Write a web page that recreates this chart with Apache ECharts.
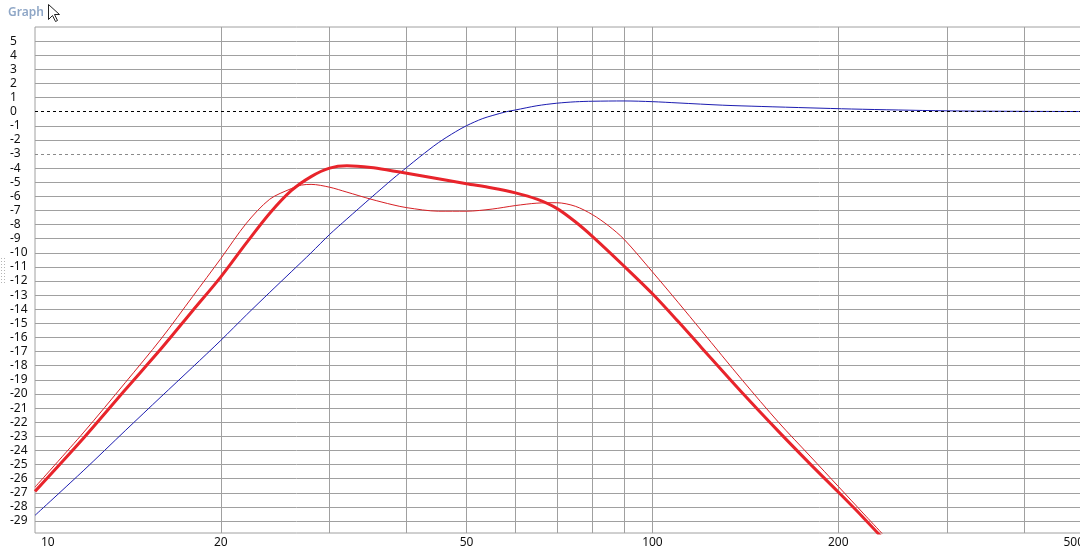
<!DOCTYPE html>
<html><head><meta charset="utf-8">
<script src="https://cdn.jsdelivr.net/npm/echarts@6/dist/echarts.min.js"></script>
<style>html,body{margin:0;padding:0;background:#fff;overflow:hidden}#c{width:1080px;height:553px}</style>
</head><body><div id="c"></div>
<script>
// Frequency (Hz) / level (dB) readings
const blueFreq = [10,12,14,16,18,20,22,24,26,28,30,32,35,38,40,42,45,48,50,53,55,58,60,65,70,75,80,90,100,110,130,150,180,210,250,300,370,500];
const blueDb   = [-28.6,-25.4,-22.6,-20.2,-18.1,-16.2,-14.4,-12.8,-11.35,-10.0,-8.7,-7.6,-6.1,-4.75,-3.95,-3.2,-2.2,-1.42,-0.99,-0.5,-0.28,0.0,0.12,0.42,0.6,0.7,0.74,0.76,0.71,0.62,0.46,0.37,0.27,0.19,0.12,0.06,0.03,0.01];

const thickFreq = [10,12,14,16,18,20,22,24,26,28,30,32,35,38,40,45,50,55,60,65,70,75,80,90,100,110,120,140,160,180,200,220,250];
const thickDb   = [-26.9,-23.1,-19.7,-16.8,-14.1,-11.7,-9.3,-7.2,-5.6,-4.6,-4.0,-3.83,-3.95,-4.2,-4.36,-4.75,-5.1,-5.4,-5.75,-6.2,-6.85,-7.8,-8.85,-10.95,-12.9,-14.85,-16.7,-19.95,-22.65,-24.95,-26.95,-28.8,-31.4];

const thinFreq = [10,12,14,16,18,20,22,24,26,27,28,30,32,35,38,40,45,50,55,60,65,70,75,80,85,90,100,110,120,140,160,180,200,220,250];
const thinDb   = [-26.6,-22.7,-19.2,-16.1,-13.1,-10.4,-7.9,-6.2,-5.45,-5.2,-5.15,-5.35,-5.7,-6.2,-6.6,-6.8,-7.05,-7.05,-6.9,-6.65,-6.48,-6.45,-6.7,-7.3,-8.1,-9.05,-11.35,-13.5,-15.5,-19.05,-22.0,-24.4,-26.55,-28.5,-31.1];

const xLabelFreqs = [10,20,50,100,200,500];
const xGridFreqs = [20,30,40,50,60,70,80,90,100,200,300,400];
const yLabelValues = [5,4,3,2,1,0,-1,-2,-3,-4,-5,-6,-7,-8,-9,-10,-11,-12,-13,-14,-15,-16,-17,-18,-19,-20,-21,-22,-23,-24,-25,-26,-27,-28,-29];
const refLevels = [0,-3];

const FONT = 'Noto Sans';
const toPairs = (fs, ds) => fs.map((f, i) => [Math.log10(f), ds[i]]);
const yGridValues = yLabelValues.filter(v => refLevels.indexOf(v) < 0);
const firstLabel = xLabelFreqs[0];

const chart = echarts.init(document.getElementById('c'), null, {renderer: 'canvas'});
chart.setOption({
  animation: false,
  backgroundColor: '#ffffff',
  title: {text: 'Graph', left: 3, top: 2, textStyle: {color: '#8ea6c6', fontSize: 12, fontWeight: 600, fontFamily: FONT}},
  grid: {left: 35, width: 1049, top: 27, bottom: 20, show: true, borderColor: '#a0a0a0', borderWidth: 1,
         containLabel: false, outerBoundsMode: 'none'},
  xAxis: {
    type: 'value', min: 1, max: Math.log10(500),
    axisLine: {show: false},
    axisTick: {show: false, customValues: xGridFreqs.map(f => Math.log10(f))},
    splitLine: {show: true, lineStyle: {color: '#a0a0a0', width: 1}},
    axisLabel: {
      customValues: xLabelFreqs.map(f => Math.log10(f)),
      formatter: v => {
        const f = Math.round(Math.pow(10, v));
        return f === firstLabel ? '{first|' + f + '}' : String(f);
      },
      rich: {first: {padding: [0, 0, 0, 6], color: '#111', fontSize: 12, fontFamily: FONT}},
      color: '#111', fontSize: 12, fontFamily: FONT, margin: 4,
      alignMinLabel: 'left', alignMaxLabel: 'right'
    }
  },
  yAxis: {
    type: 'value', min: -29.85, max: 6,
    axisLine: {show: false},
    axisTick: {show: false, customValues: yGridValues},
    splitLine: {show: true, lineStyle: {color: '#a0a0a0', width: 1}},
    axisLabel: {customValues: yLabelValues, color: '#111', fontSize: 12, fontFamily: FONT, align: 'left', margin: 25}
  },
  series: [
    {
      type: 'line', name: 'blue', data: toPairs(blueFreq, blueDb), smooth: 0.3,
      showSymbol: false, lineStyle: {color: '#1c1cb0', width: 1}, z: 2,
      markLine: {
        silent: true, symbol: 'none', label: {show: false},
        data: [
          {yAxis: refLevels[0], lineStyle: {color: '#000000', width: 1, type: [3, 3]}},
          {yAxis: refLevels[1], lineStyle: {color: '#8a8a8a', width: 1, type: [3, 3]}}
        ]
      }
    },
    {
      type: 'line', name: 'thin', data: toPairs(thinFreq, thinDb), smooth: 0.3,
      showSymbol: false, lineStyle: {color: '#d61f24', width: 1}, z: 3
    },
    {
      type: 'line', name: 'thick', data: toPairs(thickFreq, thickDb), smooth: 0.3,
      showSymbol: false, lineStyle: {color: '#e8242b', width: 3}, z: 4
    }
  ],
  graphic: [
    {type: 'polygon', left: 48, top: 4, shape: {points: [[0,0],[0,15],[4,11],[7,17],[9,16],[6,10],[11,10]]},
     style: {fill: '#ffffff', stroke: '#222', lineWidth: 1}},
    {type: 'line', shape: {x1: 1.5, y1: 258, x2: 1.5, y2: 285}, style: {stroke: '#b4b4b4', lineWidth: 1, lineDash: [1, 2]}},
    {type: 'line', shape: {x1: 4.5, y1: 258, x2: 4.5, y2: 285}, style: {stroke: '#b4b4b4', lineWidth: 1, lineDash: [1, 2]}}
  ]
});
</script>
</body></html>
